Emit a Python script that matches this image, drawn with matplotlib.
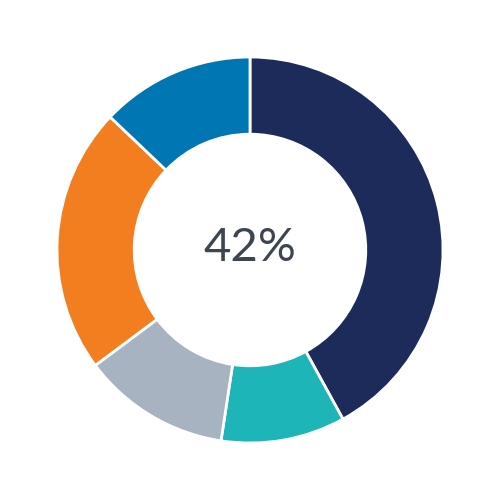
import matplotlib.pyplot as plt

# Segment shares, clockwise from 12 o'clock
labels = ['Navy', 'Teal', 'Gray', 'Orange', 'Blue']
values = [42, 10.4, 12.4, 22.3, 12.9]
colors = ['#1c2b5a', '#1db5b7', '#a8b3c2', '#f37e20', '#0077b3']
center_text = '42%'

fig = plt.figure(figsize=(5, 5), dpi=100)
ax = fig.add_axes([0, 0, 1, 1])

ax.pie(values, colors=colors, startangle=90, counterclock=False,
       radius=1.0, wedgeprops=dict(width=0.4, edgecolor='white', linewidth=2))

ax.text(0, 0.01, center_text, ha='center', va='center', fontsize=34,
        color='#3d4650', family='Lato')

lim = 250 / 193
ax.set_xlim(-lim, lim)
ax.set_ylim(-lim, lim)
ax.set_aspect('equal')
ax.axis('off')

fig.savefig('out.png', dpi=100, facecolor='white')
